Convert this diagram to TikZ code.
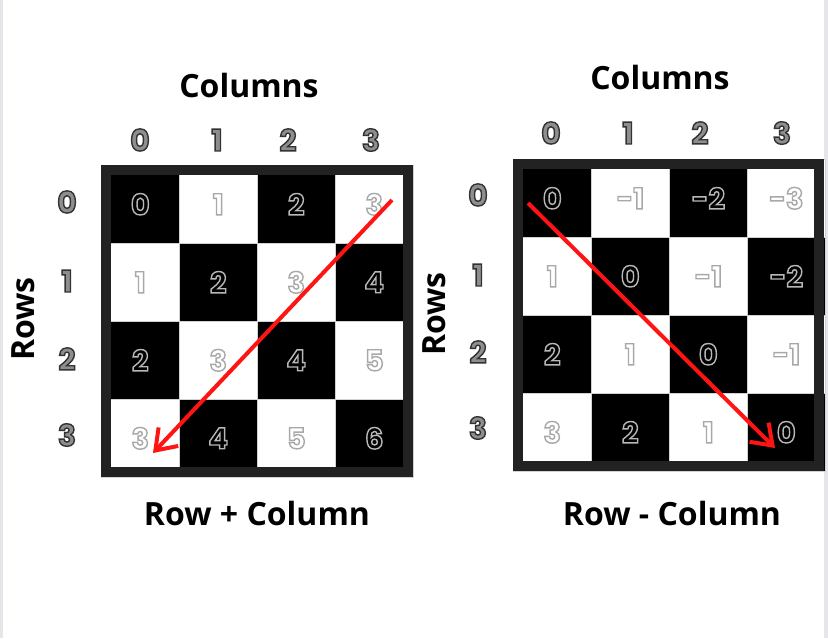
\documentclass[tikz,border=0pt]{standalone}
\usepackage{fontspec}
\setmainfont{Open Sans}
\newfontfamily\digfont{Poppins}
\usetikzlibrary{arrows.meta}
\definecolor{framec}{HTML}{222222}
\definecolor{stripc}{HTML}{E6E6EA}
\definecolor{arrowred}{HTML}{FF1414}
\definecolor{hdrfill}{HTML}{8E8E8E}
\definecolor{celllineW}{HTML}{A8A8A8}
\definecolor{celllineB}{HTML}{B8B8B8}
\makeatletter
% outline-only digits (stroked glyphs)
\newcommand{\outl}[1]{\pgfsys@invoke{1 Tr 1.4 w}#1\pgfsys@invoke{0 Tr}}
% filled gray digits with dark outline
\newcommand{\hdrnum}[1]{\pgfsys@invoke{2 Tr 1.4 w 0.2 0.2 0.2 RG}#1\pgfsys@invoke{0 Tr}}
\makeatother
\tikzset{
  cellbox/.style={minimum size=78pt, inner sep=0pt, draw=gray!35, line width=0.6pt, anchor=north west,
    font=\digfont\bfseries\fontsize{29}{32}\selectfont},
  title/.style={font=\fontsize{32}{36}\selectfont\bfseries, inner sep=0pt},
  hdr/.style={font=\digfont\bfseries\fontsize{30}{32}\selectfont, inner sep=0pt, text=hdrfill},
  frame/.style={draw=framec, line width=10pt},
  redarrow/.style={draw=arrowred, line width=4pt, -{Straight Barb[length=19pt,width=27pt]}}
}
\begin{document}
\begin{tikzpicture}[x=1pt,y=-1pt]
\useasboundingbox (0,0) rectangle (828,638);
\fill[white] (0,0) rectangle (828,638);
\fill[stripc] (0,0) rectangle (2.5,638);
\fill[stripc] (824,0) rectangle (828,638);

% ---------- left board ----------
\foreach \r in {0,...,3}{
  \foreach \c in {0,...,3}{
    \pgfmathtruncatemacro\s{\r+\c}
    \pgfmathtruncatemacro\pty{mod(\s,2)}
    \ifnum\pty=0
      \node[cellbox, fill=black, text=celllineB] (L-\r-\c) at ({101+78*\c},{165+78*\r}) {\outl{\s}};
    \else
      \node[cellbox, fill=white, text=celllineW] (L-\r-\c) at ({101+78*\c},{165+78*\r}) {\outl{\s}};
    \fi
  }
}
\draw[frame] (106,170) rectangle (408,471.5);

% ---------- right board ----------
\foreach \r in {0,...,3}{
  \foreach \c in {0,...,3}{
    \pgfmathtruncatemacro\s{\r+\c}
    \pgfmathtruncatemacro\d{\r-\c}
    \pgfmathtruncatemacro\pty{mod(\s,2)}
    \ifnum\pty=0
      \node[cellbox, fill=black, text=celllineB] (R-\r-\c) at ({513+78*\c},{159+78*\r}) {\outl{\d}};
    \else
      \node[cellbox, fill=white, text=celllineW] (R-\r-\c) at ({513+78*\c},{159+78*\r}) {\outl{\d}};
    \fi
  }
}
\draw[frame] (518,164) rectangle (819,466);

% ---------- titles ----------
\node[title] (colL) at (249,85) {Columns};
\node[title] (colR) at (660,77) {Columns};
\node[title, rotate=90] (rowsL) at (23,319) {Rows};
\node[title, rotate=90] (rowsR) at (434,314) {Rows};
\node[title] (sumL) at (257,513) {Row + Column};
\node[title] (difR) at (672,513) {Row - Column};

% ---------- headers ----------
\node[hdr] (lc0) at (140,140) {\hdrnum{0}};
\node[hdr] (lc1) at (217,140) {\hdrnum{1}};
\node[hdr] (lc2) at (288,140) {\hdrnum{2}};
\node[hdr] (lc3) at (371,140) {\hdrnum{3}};
\node[hdr] (lr0) at (67,202) {\hdrnum{0}};
\node[hdr] (lr1) at (67,281) {\hdrnum{1}};
\node[hdr] (lr2) at (67,359) {\hdrnum{2}};
\node[hdr] (lr3) at (67,435) {\hdrnum{3}};

\node[hdr] (rc0) at (551,133) {\hdrnum{0}};
\node[hdr] (rc1) at (628,133) {\hdrnum{1}};
\node[hdr] (rc2) at (700,133) {\hdrnum{2}};
\node[hdr] (rc3) at (782,133) {\hdrnum{3}};
\node[hdr] (rr0) at (478,195) {\hdrnum{0}};
\node[hdr] (rr1) at (478,275) {\hdrnum{1}};
\node[hdr] (rr2) at (478,352) {\hdrnum{2}};
\node[hdr] (rr3) at (478,428) {\hdrnum{3}};

% ---------- arrows ----------
\coordinate (LA) at (392,200);
\coordinate (LB) at (153,453);
\coordinate (RA) at (528,203);
\coordinate (RB) at (775,448);
\draw[redarrow] (LA) -- (LB);
\draw[redarrow] (RA) -- (RB);
\end{tikzpicture}
\end{document}
